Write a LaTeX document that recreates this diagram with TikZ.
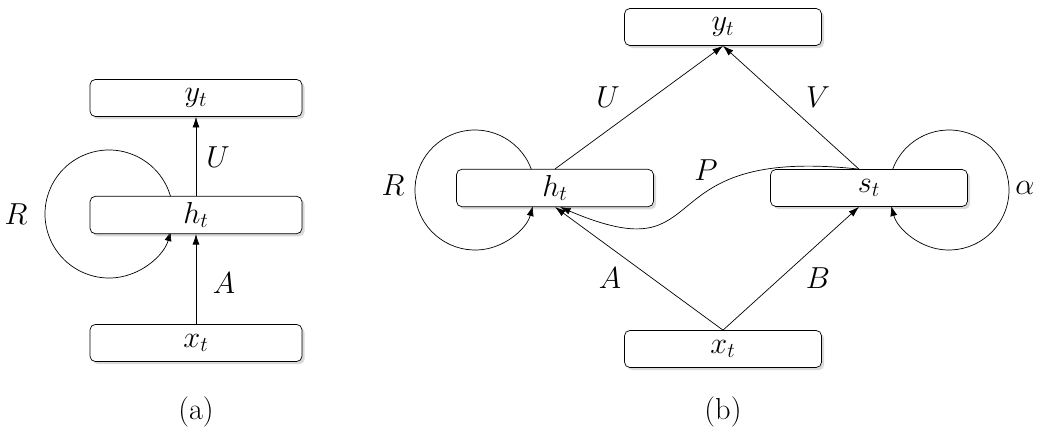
\documentclass[tikz,border=0pt]{standalone}
\usepackage{amsmath}
\usetikzlibrary{arrows.meta,shadows,calc}
\begin{document}
\begin{tikzpicture}[x=0.02cm,y=0.02cm,
    box/.style={draw,rounded corners=3pt,fill=white,minimum height=0.74cm,
      drop shadow={shadow xshift=1.5pt,shadow yshift=-1.5pt,opacity=0.3}},
    lab/.style={font=\LARGE},
    >={Latex[length=6pt,width=4pt]}]
  \useasboundingbox (0,0) rectangle (1049,-439);
  % (a)
  \node[box,minimum width=4.24cm] (ya) at (196,-98) {\LARGE $y_t$};
  \node[box,minimum width=4.24cm] (xa) at (196,-343) {\LARGE $x_t$};
  \coordinate (ca) at (109,-214);
  \draw[->] ($(ca)+(15:64)$) arc[start angle=15,end angle=345,radius=64];
  \node[box,minimum width=4.24cm] (ha) at (196,-215) {\LARGE $h_t$};
  \draw[->] (ha) -- (ya);
  \draw[->] (xa) -- (ha);
  \node[lab] at (16,-214) {$R$};
  \node[lab] at (218,-157) {$U$};
  \node[lab] at (224,-283) {$A$};
  \node[lab] at (196,-412) {(a)};
  % (b)
  \node[box,minimum width=3.94cm] (yb) at (723,-27) {\LARGE $y_t$};
  \node[box,minimum width=3.94cm] (xb) at (723,-349) {\LARGE $x_t$};
  \coordinate (cr) at (475,-190);
  \coordinate (cs) at (949,-190);
  \draw[->] ($(cr)+(15:60)$) arc[start angle=15,end angle=345,radius=60];
  \draw[->] ($(cs)+(165:60)$) arc[start angle=165,end angle=-165,radius=60];
  \node[box,minimum width=3.94cm] (hb) at (555,-188) {\LARGE $h_t$};
  \node[box,minimum width=3.94cm] (sb) at (869,-188) {\LARGE $s_t$};
  \draw[->] (hb.north) -- (yb.south);
  \draw[->] ([xshift=-0.2cm]sb.north) -- (yb.south);
  \draw[->] (xb.north) -- (hb.south);
  \draw[->] (xb.north) -- ([xshift=-0.2cm]sb.south);
  \draw[->] ([xshift=-0.2cm]sb.north) .. controls (640,-145) and (720,-275) .. ([xshift=0.1cm]hb.south);
  \node[lab] at (608,-97) {$U$};
  \node[lab] at (818,-97) {$V$};
  \node[lab] at (393,-185) {$R$};
  \node[lab] at (706,-170) {$P$};
  \node[lab] at (1025,-188) {$\alpha$};
  \node[lab] at (610,-278) {$A$};
  \node[lab] at (818,-278) {$B$};
  \node[lab] at (723,-412) {(b)};
\end{tikzpicture}
\end{document}
